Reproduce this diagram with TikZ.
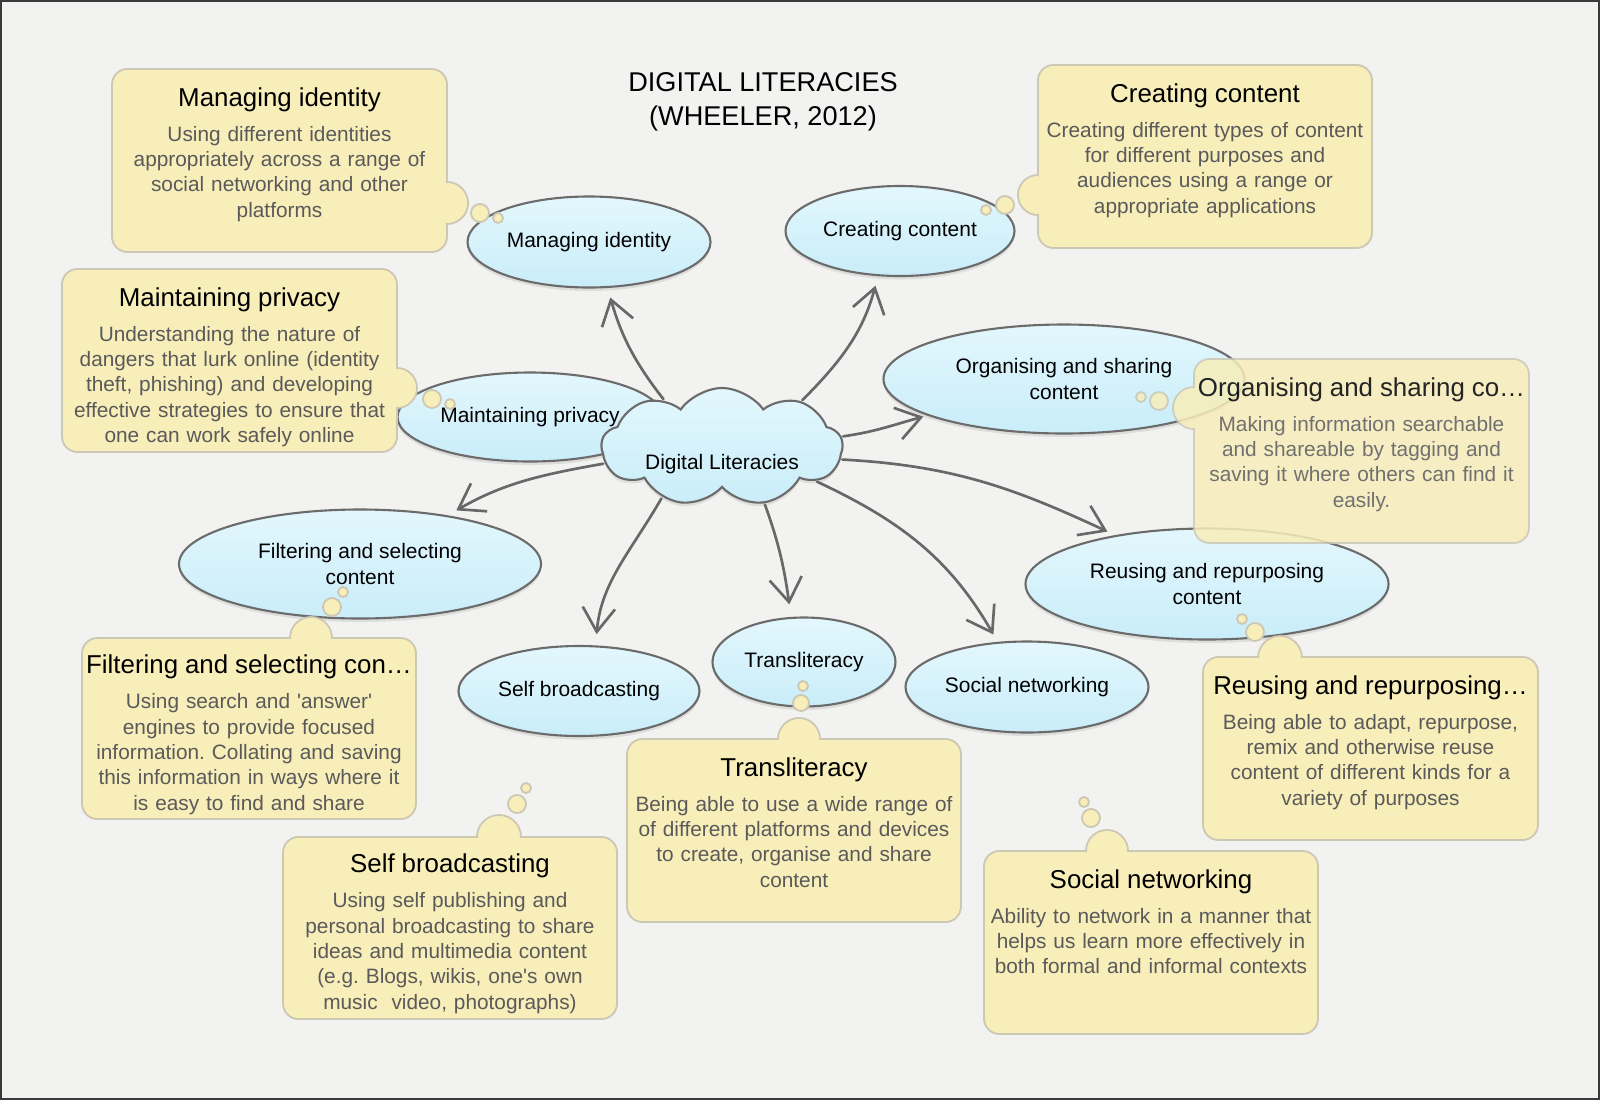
\documentclass[tikz,border=0pt]{standalone}
\usepackage{fontspec}
\setmainfont{Liberation Sans}
\usetikzlibrary{arrows.meta,shapes.geometric,shapes.symbols,shadows}
\definecolor{paper}{HTML}{F2F2F1}
\definecolor{frameDark}{HTML}{3A3A3A}
\definecolor{bubbleTop}{HTML}{E3F7FD}
\definecolor{bubbleBot}{HTML}{C9EDF9}
\definecolor{bubbleEdge}{HTML}{6B6B6B}
\definecolor{noteFill}{HTML}{F7EEBA}
\definecolor{noteEdge}{HTML}{CCC8B4}
\definecolor{noteText}{HTML}{5A5A5A}
\definecolor{arrowGray}{HTML}{686868}
\newcommand{\topicfont}{\fontsize{14.9}{17.8}\selectfont}
\newcommand{\notebody}{\fontsize{14.8}{18}\selectfont}
\newcommand{\notehead}{\fontsize{18.4}{22}\selectfont\color{black}}
\frenchspacing

\begin{document}
\begin{tikzpicture}[x=0.025cm, y=0.025cm,
    every node/.style={align=center},
    topic/.style 2 args={ellipse, draw=bubbleEdge, line width=1.5pt, top color=bubbleTop, bottom color=bubbleBot,
      minimum width=#1*0.025cm, minimum height=#2*0.025cm, inner sep=0pt, font=\topicfont,
      drop shadow={opacity=0.18, shadow xshift=0pt, shadow yshift=-2.5pt}},
    notebox/.style 2 args={rectangle, draw=noteEdge, line width=1.3pt, fill=noteFill, rounded corners=11pt,
      minimum width=#1*0.025cm, minimum height=#2*0.025cm, inner sep=0pt},
    notetext/.style={anchor=north, text width=8.4cm, inner sep=0pt, text=noteText, font=\notebody},
    puff/.style={draw=noteEdge, line width=1.3pt, fill=noteFill},
    arr/.style={arrowGray, line width=1.9pt, line cap=round, shorten <=1pt, -{Straight Barb[length=17pt, width=23pt]}}]
  \useasboundingbox (0,0) rectangle (1600,-1100);
  \fill[paper] (0,0) rectangle (1600,-1100);
  \draw[frameDark, line width=1.4pt] (1,-1) rectangle (1599,-1099);

  \node[font=\fontsize{19.3}{24}\selectfont] (title) at (763,-102) {DIGITAL LITERACIES\\(WHEELER, 2012)};

  % the topics round the centre
  \node[topic={265}{89}] (mp) at (530,-417) {Maintaining privacy};
  \node[topic={243}{91}] (mi) at (589,-242) {Managing identity};
  \node[topic={229}{90}] (cc) at (900,-231) {Creating content};
  \node[topic={361}{109}] (os) at (1064,-379) {Organising and sharing\\content};
  \node[topic={362}{109}] (fs) at (360,-564) {Filtering and selecting\\content};
  \node[topic={241}{90}] (sb) at (579,-691) {Self broadcasting};
  \node[topic={183}{89}] (tr) at (804,-662) {Transliteracy};
  \node[topic={243}{91}] (sn) at (1027,-687) {Social networking};
  \node[topic={363}{111}] (rr) at (1207,-584) {Reusing and repurposing\\content};

  \node[cloud, cloud puffs=9, cloud puff arc=110, aspect=2.05, cloud ignores aspect, draw=bubbleEdge, line width=1.5pt,
    top color=bubbleTop, bottom color=bubbleBot, minimum width=241*0.025cm, minimum height=118*0.025cm,
    inner sep=0pt, font=\topicfont, drop shadow={opacity=0.18, shadow xshift=0pt, shadow yshift=-2.5pt}]
    (dl) at (722,-447) {\raisebox{-12pt}[\height][\depth]{Digital Literacies}};

  \draw[arr, shorten >=7pt] (dl.141) to[out=128, in=-74] (mi.-68);
  \draw[arr, shorten >=7pt] (dl.30) to[out=45, in=-105] (cc.-116);
  \draw[arr, shorten >=3pt] (dl.5) to[out=8, in=-165] (os.-165);
  \draw[arr, shorten >=6pt] (dl.-6) to[out=-3, in=155] (rr.152);
  \draw[arr, shorten >=6pt] (dl.-20) to[out=-25, in=120] (sn.123);
  \draw[arr, shorten >=9pt] (dl.-53) to[out=-70, in=98] (tr.106);
  \draw[arr, shorten >=8pt] (dl.-140) to[out=-120, in=85] (sb.70);
  \draw[arr, shorten >=7pt] (dl.-172) to[out=190, in=30] (fs.29);

  % notes
  \filldraw[puff] (447,-203) circle (21);
  \node[notebox={335}{183}] (miNote) at (279.5,-160.5) {};
  \fill[noteFill] (447,-203) circle (19.8);
  \filldraw[puff] (480,-213) circle (9);
  \filldraw[puff] (498,-218) circle (5);
  \node[notetext] (miText) at ([yshift=-13.5pt]miNote.north) {{\notehead Managing identity\par}\vspace{7pt}Using different identities\\appropriately across a range of\\social networking and other\\platforms};

  \filldraw[puff] (1038,-195) circle (20);
  \node[notebox={334}{183}] (ccNote) at (1205,-156.5) {};
  \fill[noteFill] (1038,-195) circle (18.8);
  \filldraw[puff] (1005,-205) circle (9);
  \filldraw[puff] (986,-210) circle (5);
  \node[notetext] (ccText) at ([yshift=-13.5pt]ccNote.north) {{\notehead Creating content\par}\vspace{7pt}Creating different types of content\\for different purposes and\\audiences using a range or\\appropriate applications};

  \filldraw[puff] (397,-388) circle (20);
  \node[notebox={335}{183}] (mpNote) at (229.5,-360.5) {};
  \fill[noteFill] (397,-388) circle (18.8);
  \filldraw[puff] (432,-399) circle (9);
  \filldraw[puff] (450,-404) circle (5);
  \node[notetext] (mpText) at ([yshift=-13.5pt]mpNote.north) {{\notehead Maintaining privacy\par}\vspace{7pt}Understanding the nature of\\dangers that lurk online (identity\\theft, phishing) and developing\\effective strategies to ensure that\\one can work safely online};

  \begin{scope}[transparency group, opacity=0.85]
    \filldraw[puff] (1194,-408) circle (21);
    \node[notebox={335}{184}] (osNote) at (1361.5,-451) {};
    \fill[noteFill] (1194,-408) circle (19.8);
    \filldraw[puff] (1159,-401) circle (9);
    \filldraw[puff] (1141,-397) circle (5);
    \node[notetext] (osText) at ([yshift=-13.5pt]osNote.north) {{\notehead Organising and sharing co…\par}\vspace{7pt}Making information searchable\\and shareable by tagging and\\saving it where others can find it\\easily.};
  \end{scope}

  \filldraw[puff] (311,-638) circle (21);
  \node[notebox={334}{181}] (fsNote) at (249,-728.5) {};
  \fill[noteFill] (311,-638) circle (19.8);
  \filldraw[puff] (332,-607) circle (9);
  \filldraw[puff] (343,-592) circle (5);
  \node[notetext] (fsText) at ([yshift=-12.5pt]fsNote.north) {{\notehead Filtering and selecting con…\par}\vspace{7pt}Using search and \textquotesingle answer\textquotesingle\\engines to provide focused\\information. Collating and saving\\this information in ways where it\\is easy to find and share};

  \filldraw[puff] (499,-837) circle (22);
  \node[notebox={334}{182}] (sbNote) at (450,-928) {};
  \fill[noteFill] (499,-837) circle (20.8);
  \filldraw[puff] (517,-804) circle (9);
  \filldraw[puff] (526,-788) circle (5);
  \node[notetext] (sbText) at ([yshift=-12.5pt]sbNote.north) {{\notehead Self broadcasting\par}\vspace{7pt}Using self publishing and\\personal broadcasting to share\\ideas and multimedia content\\(e.g. Blogs, wikis, one\textquotesingle s own\\music~ video, photographs)};

  \filldraw[puff] (799,-739) circle (21);
  \node[notebox={334}{183}] (trNote) at (794,-830.5) {};
  \fill[noteFill] (799,-739) circle (19.8);
  \filldraw[puff] (801,-703) circle (8);
  \filldraw[puff] (803,-686) circle (5);
  \node[notetext] (trText) at ([yshift=-13.5pt]trNote.north) {{\notehead Transliteracy\par}\vspace{7pt}Being able to use a wide range of\\of different platforms and devices\\to create, organise and share\\content};

  \filldraw[puff] (1107,-851) circle (21);
  \node[notebox={334}{183}] (snNote) at (1151,-942.5) {};
  \fill[noteFill] (1107,-851) circle (19.8);
  \filldraw[puff] (1091,-818) circle (9);
  \filldraw[puff] (1084,-802) circle (5);
  \node[notetext] (snText) at ([yshift=-13.5pt]snNote.north) {{\notehead Social networking\par}\vspace{7pt}Ability to network in a manner that\\helps us learn more effectively in\\both formal and informal contexts};

  \filldraw[puff] (1280,-658) circle (22);
  \node[notebox={335}{183}] (rrNote) at (1370.5,-748.5) {};
  \fill[noteFill] (1280,-658) circle (20.8);
  \filldraw[puff] (1255,-632) circle (9);
  \filldraw[puff] (1242,-619) circle (5);
  \node[notetext] (rrText) at ([yshift=-13.5pt]rrNote.north) {{\notehead Reusing and repurposing…\par}\vspace{7pt}Being able to adapt, repurpose,\\remix and otherwise reuse\\content of different kinds for a\\variety of purposes};
\end{tikzpicture}
\end{document}
